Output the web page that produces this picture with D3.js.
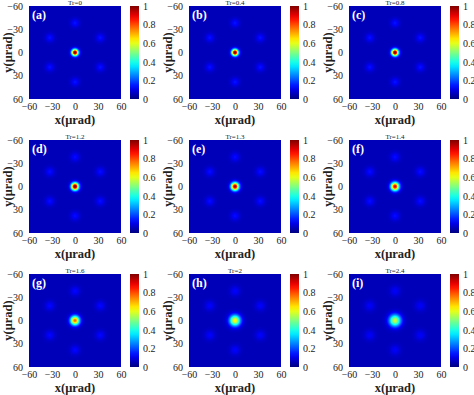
<html lang='en'>
<head>
    <meta content='text/html; charset=utf-8' http-equiv='Content-Type'>
    <script src="https://d3js.org/d3.v7.min.js"></script>
    <style>
        body { margin: 0; background: #fff; }
        svg text { font-family: "Liberation Serif", "DejaVu Serif", serif; fill: #222; }
        .tick text { font-size: 10px; }
        .axlabel { font-size: 12.5px; font-weight: bold; }
        .title { font-size: 7px; }
        .plabel { font-size: 12px; font-weight: bold; fill: #fff; }
    </style>
</head>
<body>
<script>
// one entry per panel
var trValues    = ["0", "0.4", "0.8", "1.2", "1.3", "1.4", "1.6", "2", "2.4"];
var panelNames  = ["(a)", "(b)", "(c)", "(d)", "(e)", "(f)", "(g)", "(h)", "(i)"];
var centerPeak  = [1.0, 1.0, 1.0, 1.0, 0.93, 0.86, 0.72, 0.58, 0.52];
var centerSigma = [3.0, 3.0, 3.1, 3.4, 3.6, 3.8, 4.2, 5.0, 5.4];
var sidePeak    = [0.085, 0.085, 0.085, 0.08, 0.08, 0.08, 0.075, 0.07, 0.065];
var sideSigma   = [3.8, 3.8, 3.8, 4.0, 4.0, 4.1, 4.2, 4.4, 4.6];
// six side lobes (hexagon), angle in degrees
var sideAngles  = [90, 30, -30, -90, -150, 150];
var sideRadius  = 38;
var floorLevel  = 0.055;

var axisTicks = [-60, -30, 0, 30, 60];
var barTicks  = [0, 0.2, 0.4, 0.6, 0.8, 1];

var colLeft = [29, 189, 349];
var rowTop  = [6, 140, 274];
var pw = 92, ph = 93;

var jet = d3.scaleLinear()
    .domain([0, 0.125, 0.375, 0.625, 0.875, 1])
    .range(["#000080", "#0000ff", "#00ffff", "#ffff00", "#ff0000", "#800000"])
    .clamp(true);

var x = d3.scaleLinear().domain([-60, 60]).range([0, pw]);
var y = d3.scaleLinear().domain([-60, 60]).range([0, ph]);
var cb = d3.scaleLinear().domain([0, 1]).range([ph, 0]);

var svg = d3.select("body").append("svg")
    .attr("width", 474)
    .attr("height", 395);

function field(i, u, v) {
    var s = floorLevel;
    var c = centerSigma[i];
    s += centerPeak[i] * Math.exp(-(u * u + v * v) / (2 * c * c));
    var ss = sideSigma[i];
    sideAngles.forEach(function(a) {
        var px = sideRadius * Math.cos(a * Math.PI / 180);
        var py = sideRadius * Math.sin(a * Math.PI / 180);
        var dx = u - px, dy = v - py;
        s += sidePeak[i] * Math.exp(-(dx * dx + dy * dy) / (2 * ss * ss));
    });
    return s;
}

function heatImage(i) {
    var canvas = document.createElement("canvas");
    canvas.width = pw; canvas.height = ph;
    var ctx = canvas.getContext("2d");
    var img = ctx.createImageData(pw, ph);
    for (var r = 0; r < ph; r++) {
        for (var c = 0; c < pw; c++) {
            var col = d3.rgb(jet(field(i, x.invert(c + 0.5), y.invert(r + 0.5))));
            var k = (r * pw + c) * 4;
            img.data[k] = col.r; img.data[k + 1] = col.g; img.data[k + 2] = col.b; img.data[k + 3] = 255;
        }
    }
    ctx.putImageData(img, 0, 0);
    return canvas.toDataURL();
}

// colorbar gradient
var defs = svg.append("defs");
var grad = defs.append("linearGradient").attr("id", "jetbar")
    .attr("x1", 0).attr("y1", 1).attr("x2", 0).attr("y2", 0);
d3.range(0, 1.0001, 0.05).forEach(function(t) {
    grad.append("stop").attr("offset", t).attr("stop-color", jet(t));
});

trValues.forEach(function(tr, i) {
    var g = svg.append("g")
        .attr("transform", "translate(" + colLeft[i % 3] + "," + rowTop[Math.floor(i / 3)] + ")");

    g.append("image")
        .attr("width", pw).attr("height", ph)
        .attr("preserveAspectRatio", "none")
        .attr("href", heatImage(i));

    g.append("text").attr("class", "title")
        .attr("x", pw / 2).attr("y", -1)
        .attr("text-anchor", "middle")
        .text("Tr=" + tr);

    g.append("text").attr("class", "plabel")
        .attr("x", 3).attr("y", 13)
        .text(panelNames[i]);

    var ax = g.append("g")
        .attr("transform", "translate(0," + ph + ")")
        .call(d3.axisBottom(x).tickValues(axisTicks).tickSize(0).tickPadding(4));
    ax.select(".domain").remove();

    var ay = g.append("g")
        .call(d3.axisLeft(y).tickValues(axisTicks).tickSize(0).tickPadding(6));
    ay.select(".domain").remove();

    g.selectAll(".tick text").attr("font-family", null).attr("font-size", null);

    g.append("text").attr("class", "axlabel")
        .attr("x", pw / 2).attr("y", ph + 25)
        .attr("text-anchor", "middle")
        .text("x(μrad)");

    g.append("text").attr("class", "axlabel")
        .attr("transform", "translate(-17," + (ph / 2) + ") rotate(-90)")
        .attr("text-anchor", "middle")
        .text("y(μrad)");

    var bar = g.append("g").attr("transform", "translate(" + (pw + 9) + ",0)");
    bar.append("rect")
        .attr("width", 9).attr("height", ph)
        .attr("fill", "url(#jetbar)");
    var ab = bar.append("g")
        .attr("transform", "translate(9,0)")
        .call(d3.axisRight(cb).tickValues(barTicks).tickSize(0).tickPadding(4)
            .tickFormat(function(d) { return d3.format("")(d); }));
    ab.select(".domain").remove();
    ab.selectAll(".tick text").attr("font-family", null).attr("font-size", null);
});
</script>
</body>
</html>
